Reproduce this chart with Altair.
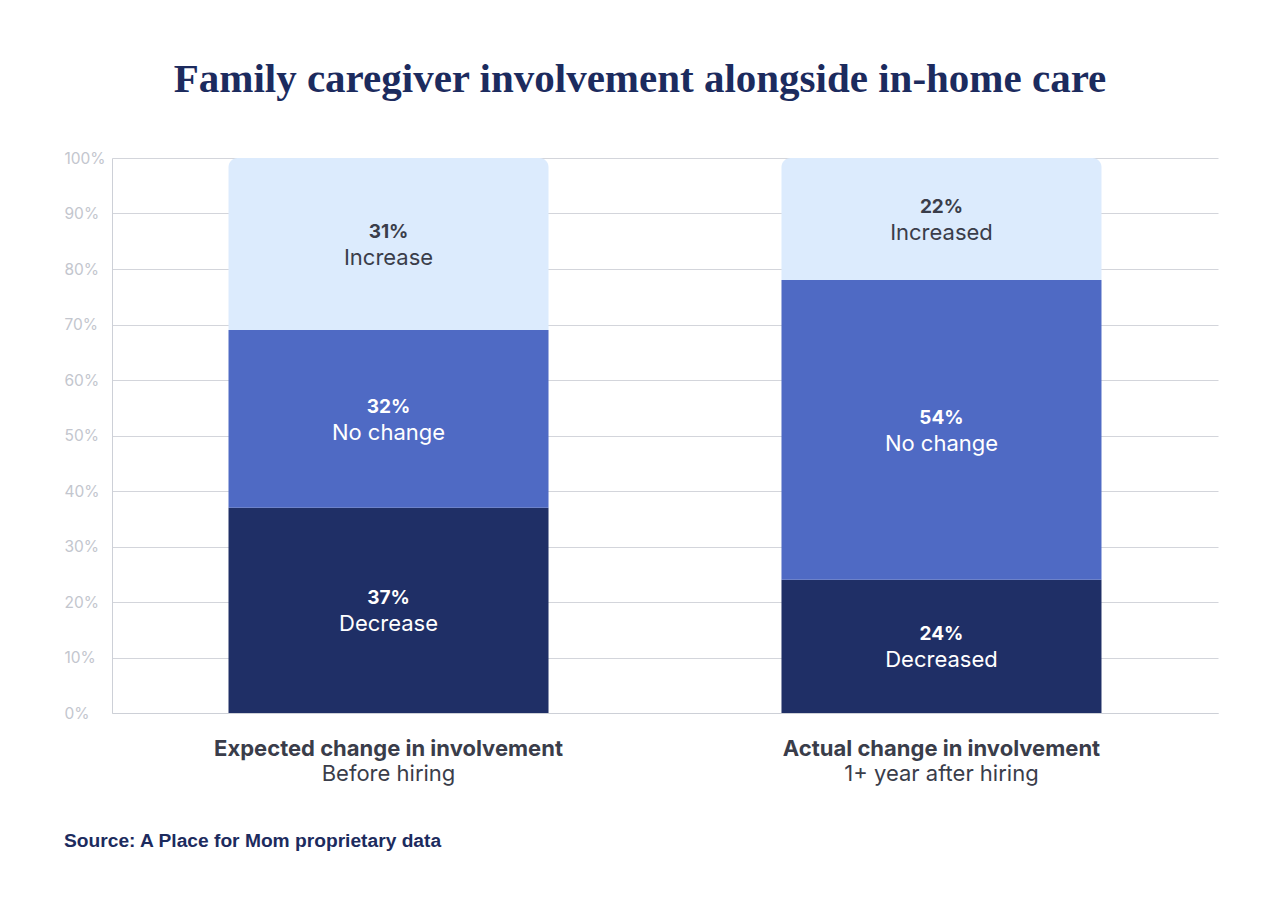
import altair as alt
import pandas as pd

# ---- data ----
groups = ["Expected change in involvement", "Actual change in involvement"]
subtitles = ["Before hiring", "1+ year after hiring"]
levels = [0, 1, 2]
labels_expected = ["Decrease", "No change", "Increase"]
labels_actual = ["Decreased", "No change", "Increased"]
values_expected = [37, 32, 31]
values_actual = [24, 54, 22]
source_text = "Source: A Place for Mom proprietary data"
title_text = "Family caregiver involvement alongside in-home care"

rows = []
for g, sub, labs, vals in [
    (groups[0], subtitles[0], labels_expected, values_expected),
    (groups[1], subtitles[1], labels_actual, values_actual),
]:
    for lv, lab, v in zip(levels, labs, vals):
        rows.append({"group": g, "sub": sub, "level": lv, "label": lab, "value": v})
df = pd.DataFrame(rows)

COLORS = ["#1f2f66", "#4f6ac4", "#dcebfd"]
FONT = "Inter"
W, H = 1106, 555

base = alt.Chart(df).transform_stack(
    stack="value", groupby=["group"], sort=[alt.SortField("level", order="ascending")],
    as_=["y0", "y1"]
).transform_calculate(mid="(datum.y0 + datum.y1) / 2", pct="datum.value + '%'")

x_enc = alt.X(
    "group:N", sort=groups, title=None,
    scale=alt.Scale(paddingInner=0.4213, paddingOuter=0.2107),
    axis=alt.Axis(labelFont=FONT, labelFontWeight="bold", labelFontSize=22,
                  labelColor="#3a3d4a", labelPadding=35, ticks=False, labelAngle=0,
                  labelLimit=0, domain=True, domainColor="#cdd0d7", grid=False,
                  labelBaseline="middle"),
)
y_scale = alt.Scale(domain=[0, 100])
y_enc = alt.Y(
    "y0:Q", scale=y_scale, title=None,
    axis=alt.Axis(values=list(range(0, 101, 10)), labelExpr="datum.value + '%'",
                  labelFont=FONT, labelFontSize=15.5, labelColor="#c3c6ce",
                  labelAlign="left", labelPadding=48, ticks=False,
                  domainColor="#cdd0d7", gridColor="#d3d5db", labelBaseline="middle"),
)
color_enc = alt.Color("level:O", scale=alt.Scale(domain=levels, range=COLORS), legend=None)

bars = base.transform_filter("datum.level < 2").mark_bar().encode(
    x=x_enc, y=y_enc, y2="y1:Q", color=color_enc
)
top = base.transform_filter("datum.level == 2").mark_bar(
    cornerRadiusTopLeft=9, cornerRadiusTopRight=9
).encode(x=alt.X("group:N", sort=groups), y="y0:Q", y2="y1:Q", color=color_enc)

txt_color = alt.condition("datum.level == 2", alt.value("#3a3d4a"), alt.value("white"))
pct_text = base.mark_text(font=FONT, fontSize=19, fontWeight="bold", dy=-12,
                          baseline="middle").encode(
    x=alt.X("group:N", sort=groups), y=alt.Y("mid:Q", scale=y_scale), text="pct:N", color=txt_color
)
lab_text = base.mark_text(font=FONT, fontSize=22, dy=14, baseline="middle").encode(
    x=alt.X("group:N", sort=groups), y=alt.Y("mid:Q", scale=y_scale), text="label:N", color=txt_color
)

sub_df = pd.DataFrame({"group": groups, "sub": subtitles})
sub_text = alt.Chart(sub_df).mark_text(font=FONT, fontSize=22, color="#3a3d4a",
                                       baseline="middle").encode(
    x=alt.X("group:N", sort=groups), y=alt.value(H + 61), text="sub:N"
)
src_text = alt.Chart(pd.DataFrame({"t": [source_text]})).mark_text(
    font="Liberation Sans", fontSize=19.2, fontWeight="bold", color="#1c2b5e",
    align="left", baseline="middle"
).encode(x=alt.value(-48), y=alt.value(683), text="t:N")

chart = alt.layer(bars, top, pct_text, lab_text, sub_text, src_text).properties(
    width=W, height=H,
    background="white",
    title=alt.Title(title_text, font="Liberation Serif", fontSize=41, fontWeight="bold",
                    color="#1c2b5e", anchor="middle", dx=-25, offset=18, baseline="alphabetic"),
    autosize=alt.AutoSizeParams(type="none"),
    padding={"left": 104, "top": 150, "right": 54, "bottom": 177},
).configure_view(strokeWidth=0, stroke="transparent")

chart.save("out.html", embed_options={"renderer": "svg", "actions": False})
